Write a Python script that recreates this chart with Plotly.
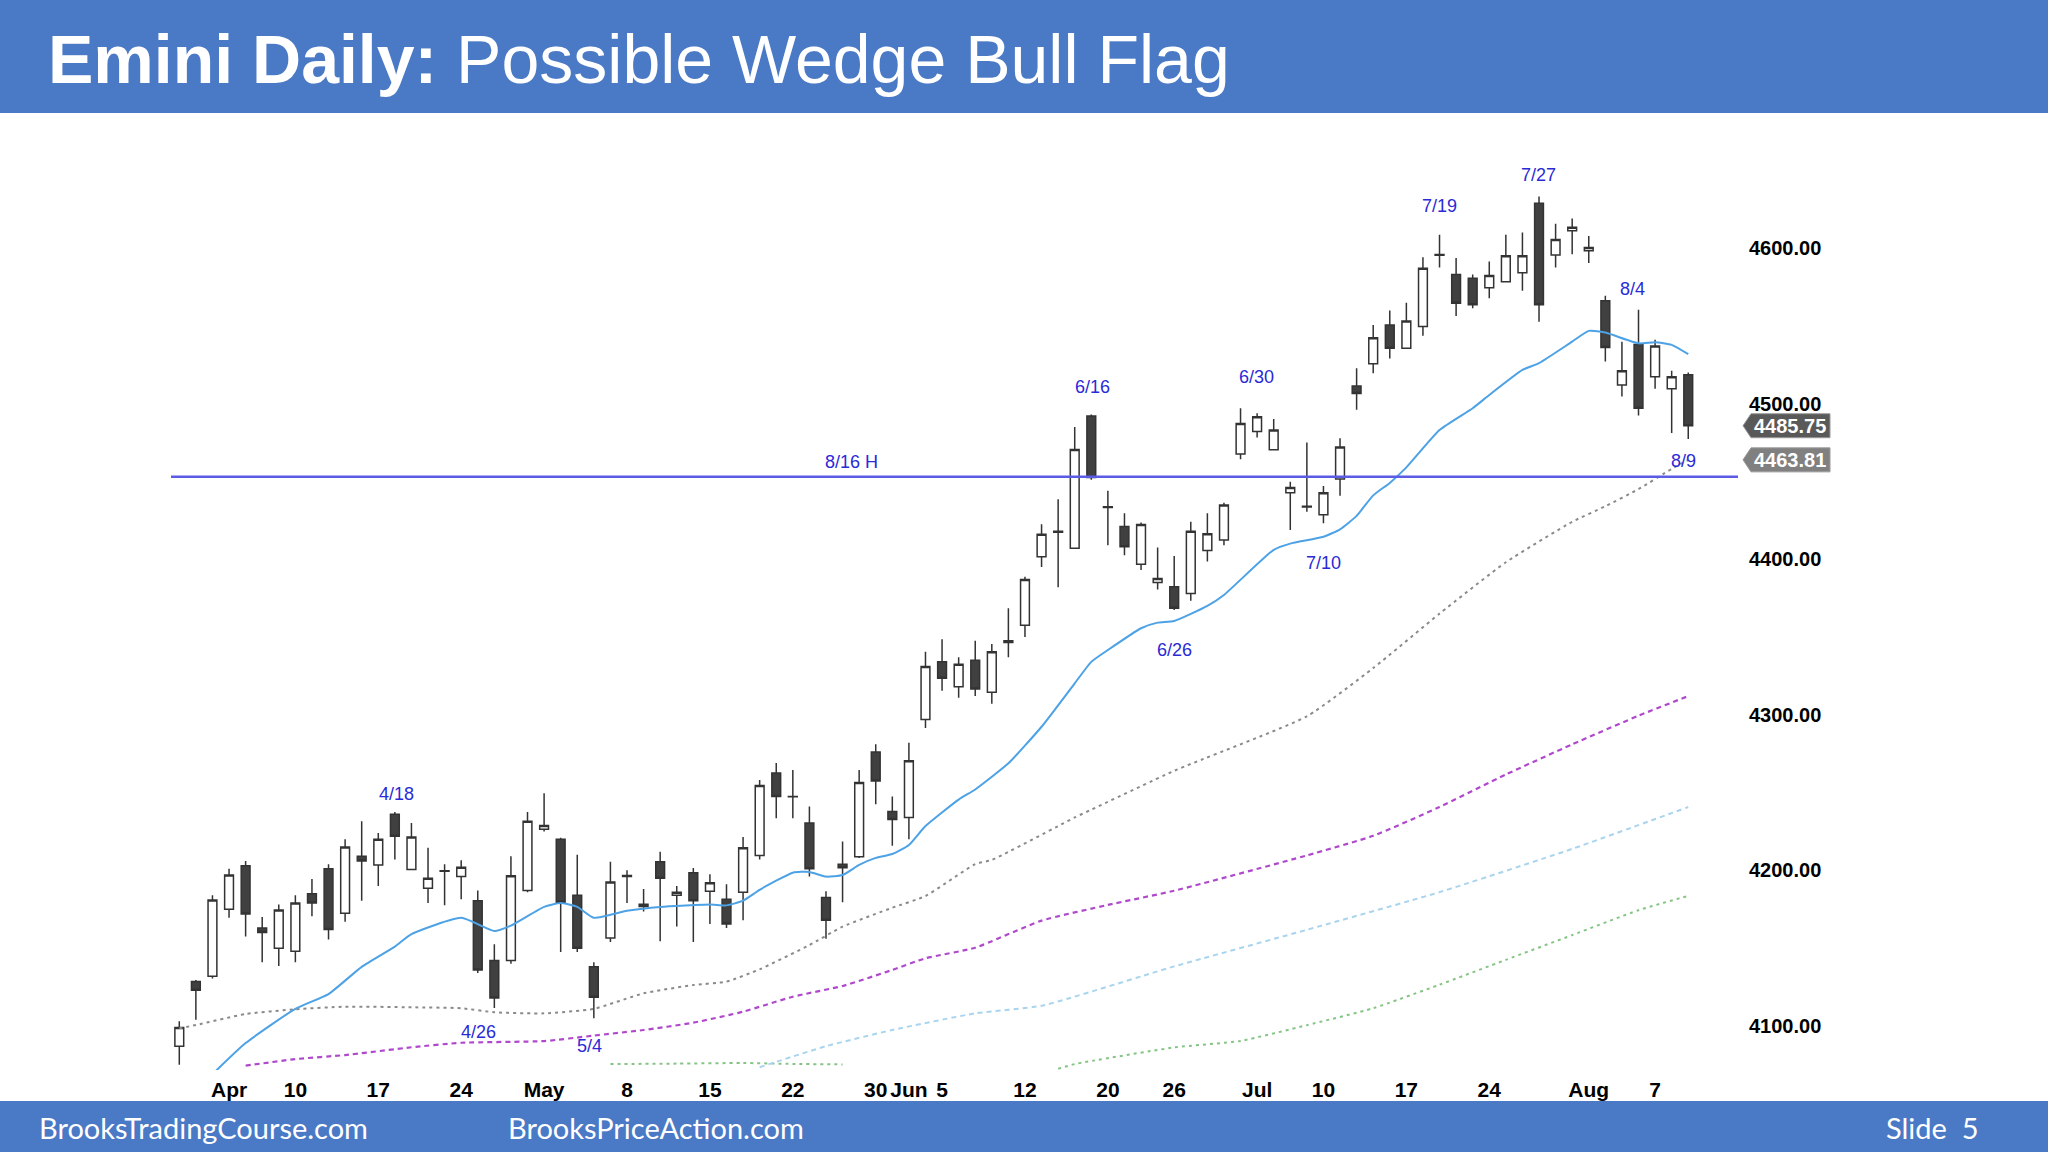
import plotly.graph_objects as go

# ---------------- data ----------------
dates = [
    "2023-03-29", "2023-03-30", "2023-03-31",
    "2023-04-03", "2023-04-04", "2023-04-05", "2023-04-06",
    "2023-04-10", "2023-04-11", "2023-04-12", "2023-04-13", "2023-04-14",
    "2023-04-17", "2023-04-18", "2023-04-19", "2023-04-20", "2023-04-21",
    "2023-04-24", "2023-04-25", "2023-04-26", "2023-04-27", "2023-04-28",
    "2023-05-01", "2023-05-02", "2023-05-03", "2023-05-04", "2023-05-05",
    "2023-05-08", "2023-05-09", "2023-05-10", "2023-05-11", "2023-05-12",
    "2023-05-15", "2023-05-16", "2023-05-17", "2023-05-18", "2023-05-19",
    "2023-05-22", "2023-05-23", "2023-05-24", "2023-05-25", "2023-05-26",
    "2023-05-30", "2023-05-31",
    "2023-06-01", "2023-06-02",
    "2023-06-05", "2023-06-06", "2023-06-07", "2023-06-08", "2023-06-09",
    "2023-06-12", "2023-06-13", "2023-06-14", "2023-06-15", "2023-06-16",
    "2023-06-20", "2023-06-21", "2023-06-22", "2023-06-23",
    "2023-06-26", "2023-06-27", "2023-06-28", "2023-06-29", "2023-06-30",
    "2023-07-03", "2023-07-05", "2023-07-06", "2023-07-07",
    "2023-07-10", "2023-07-11", "2023-07-12", "2023-07-13", "2023-07-14",
    "2023-07-17", "2023-07-18", "2023-07-19", "2023-07-20", "2023-07-21",
    "2023-07-24", "2023-07-25", "2023-07-26", "2023-07-27", "2023-07-28",
    "2023-07-31",
    "2023-08-01", "2023-08-02", "2023-08-03", "2023-08-04",
    "2023-08-07", "2023-08-08", "2023-08-09",
]

opens = [4087, 4128.5, 4132, 4175, 4203, 4163, 4150, 4148, 4185, 4201,
         4172.5, 4209, 4203.5, 4236, 4200.5, 4188.5, 4199.75, 4196, 4180.5, 4142,
         4142, 4187, 4226.5, 4220, 4184, 4138, 4156.5, 4196, 4178.25, 4205.5,
         4184, 4198.5, 4186.5, 4181.5, 4186, 4209.5, 4262.5, 4247.25, 4230.5, 4182.5,
         4204, 4208.75, 4276, 4237.75, 4234, 4297, 4334, 4318, 4335, 4314.5,
         4346.5, 4357.5, 4401.5, 4417.25, 4407, 4492, 4433.75, 4421, 4396.75, 4385,
         4382.25, 4378, 4405.5, 4412.25, 4467.5, 4482, 4470.25, 4442.75, 4434, 4428.5,
         4451.5, 4511.25, 4525.5, 4550.5, 4535.5, 4549.5, 4595.25, 4583, 4580.5, 4574.5,
         4578.25, 4584, 4628.75, 4595.5, 4611, 4598.25, 4566, 4512, 4538, 4517.25,
         4509.5, 4518.5]
highs = [4103, 4129.5, 4184, 4201, 4206, 4170, 4178, 4184, 4194.5, 4204,
         4220, 4231.5, 4224, 4237.5, 4230.5, 4214.5, 4204, 4206.5, 4187, 4152.5,
         4209, 4237.5, 4249.5, 4221, 4210, 4141, 4205.5, 4200, 4188, 4212,
         4190, 4201.5, 4197.5, 4191, 4221.5, 4258, 4269, 4264.5, 4241, 4186.5,
         4218.5, 4264.5, 4281, 4247.5, 4282, 4340.5, 4348.5, 4337, 4347.5, 4345.5,
         4368.5, 4388.75, 4422.5, 4438.5, 4485, 4493, 4444, 4429.5, 4423.5, 4407.5,
         4402, 4424, 4429.5, 4436.25, 4497, 4493.75, 4490, 4449.75, 4475, 4447,
         4477.75, 4522.75, 4550.5, 4559.75, 4564.75, 4594, 4608.5, 4593.5, 4583, 4591.25,
         4608.5, 4610, 4633, 4615.5, 4619, 4607.75, 4569.25, 4539.75, 4560.25, 4541,
         4521, 4520]
lows = [4075, 4104, 4130.5, 4169.5, 4157.5, 4141, 4138.5, 4141, 4170.5, 4155.5,
        4167, 4180.5, 4190, 4207, 4200, 4179, 4177.5, 4181.5, 4134, 4111.5,
        4140, 4186, 4225, 4147.5, 4147.5, 4105, 4154, 4179, 4173.5, 4154.5,
        4164, 4154, 4165.5, 4163, 4168, 4207, 4233.5, 4233.5, 4196, 4156,
        4179.5, 4208, 4242.5, 4215.75, 4220, 4291.5, 4315.5, 4311, 4312, 4307,
        4337, 4350, 4395, 4382, 4406.5, 4451, 4409, 4402.5, 4393, 4380.5,
        4367.25, 4373.25, 4398.5, 4409, 4464.25, 4478.25, 4469.75, 4418.75, 4430.5, 4423,
        4440.75, 4496, 4519.5, 4529, 4535, 4543.5, 4587.5, 4556.25, 4561.25, 4567.75,
        4578.25, 4572.5, 4552.5, 4587.5, 4596, 4590.25, 4527, 4504.5, 4492.25, 4509.5,
        4481, 4477.25]
closes = [4099, 4123, 4181, 4197, 4172, 4160, 4174.5, 4179, 4179, 4162,
          4215, 4206, 4220, 4222, 4221.5, 4195, 4199.5, 4202, 4136, 4118,
          4196.5, 4231.5, 4228.75, 4179.5, 4150, 4118.5, 4192.5, 4196.75, 4176.75, 4195,
          4186, 4180.5, 4192, 4165.5, 4214.5, 4254.5, 4247.5, 4247.5, 4201, 4168,
          4201.75, 4256.5, 4257.5, 4232.75, 4270.5, 4331, 4323.5, 4332.5, 4316.5, 4340.5,
          4347.5, 4387, 4416, 4418, 4470.5, 4452.5, 4433.25, 4408, 4422.25, 4387.5,
          4368.5, 4418, 4416.25, 4434.75, 4487.25, 4491.5, 4483, 4446, 4433.5, 4442.75,
          4472, 4506.5, 4542.25, 4535.5, 4553, 4587, 4595.75, 4564.5, 4563.5, 4582.25,
          4595, 4595, 4563.5, 4605.5, 4613.25, 4600.25, 4536, 4521, 4497, 4537,
          4517.25, 4485.75]

# moving averages (bar index -> value)
ema_idx = [2, 4, 7, 9, 11, 13, 14, 17, 19, 20, 22, 23, 24, 25, 27, 29, 32, 33, 34, 35,
           37, 38, 39, 40, 41, 42, 43, 44, 45, 47, 48, 50, 52, 54, 55, 56, 58, 59, 60, 62,
           63, 66, 67, 69, 70, 71, 72, 73, 74, 76, 78, 79, 81, 82, 84, 85, 86, 88, 89, 90, 91]
ema_val = [4069, 4089, 4111, 4120.5, 4138, 4151, 4159, 4169.5, 4161, 4164.5, 4176.5, 4179,
           4176.5, 4169.5, 4174, 4176.5, 4178, 4177.5, 4180.5, 4187.5, 4198.5, 4199, 4196,
           4197, 4203.5, 4208, 4210.5, 4216.3, 4228.5, 4245.5, 4252, 4268.8, 4292.3, 4320.2,
           4334, 4341.6, 4355.6, 4359.2, 4360.3, 4370, 4377, 4406, 4410, 4414.4, 4419.2,
           4427.8, 4441, 4449, 4459, 4483, 4497, 4505.5, 4521.6, 4526, 4539.8, 4546.7,
           4545.6, 4538.7, 4539.4, 4537.7, 4531.7]

gray_idx = [0, 1, 4, 7, 10, 14, 17, 19, 22, 25, 28, 31, 33, 35, 38, 40, 43, 45, 48, 49,
            54, 55, 60, 68, 72, 76, 80, 84, 86, 88, 90, 91]
gray_val = [4098.5, 4100.6, 4107.7, 4110.7, 4112.4, 4112, 4111.4, 4108.8, 4108.1, 4111,
            4121, 4126.3, 4128.5, 4136.4, 4152, 4163.8, 4176, 4183.5, 4204, 4206.7,
            4234, 4239, 4264, 4299, 4330, 4365, 4398, 4424, 4434, 4445, 4458, 4463.81]

purple_idx = [4, 7, 10, 14, 17, 22, 25, 28, 31, 34, 37, 40, 43, 45, 48, 52, 56, 60, 68,
              72, 76, 80, 84, 88, 91]
purple_val = [4074.5, 4078.7, 4081.3, 4086.3, 4089.2, 4090.3, 4093.8, 4097.4, 4102.1,
              4109.2, 4118.8, 4125.7, 4136, 4143.5, 4150.3, 4167.7, 4177.8, 4186.9, 4209.6,
              4222.2, 4240.7, 4261.6, 4281, 4299.4, 4312]

ltblue_idx = [35, 39, 43, 48, 52, 60, 68, 76, 84, 91]
ltblue_val = [4073.5, 4087, 4097.4, 4108.1, 4113, 4138.3, 4161.8, 4186, 4213.8, 4240.7]

green1_idx = [26, 30, 34, 37, 40]
green1_val = [4075.5, 4075.8, 4076.2, 4075.6, 4075.3]
green2_idx = [53, 54, 60, 64, 68, 72, 76, 80, 84, 88, 91]
green2_val = [4072.5, 4075.5, 4086.2, 4090.4, 4100.5, 4111.4, 4126.5, 4142.5, 4158.4,
              4174.4, 4183.6]

level_816h = 4453

tick_dates = ["2023-04-03", "2023-04-10", "2023-04-17", "2023-04-24", "2023-05-01",
              "2023-05-08", "2023-05-15", "2023-05-22", "2023-05-30", "2023-06-01",
              "2023-06-05", "2023-06-12", "2023-06-20", "2023-06-26", "2023-07-03",
              "2023-07-10", "2023-07-17", "2023-07-24", "2023-08-01", "2023-08-07"]
tick_text = ["Apr", "10", "17", "24", "May", "8", "15", "22", "30", "Jun", "5", "12",
             "20", "26", "Jul", "10", "17", "24", "Aug", "7"]

price_ticks = [4100, 4200, 4300, 4400, 4500, 4600]

swing_labels = ["4/18", "4/26", "5/4", "6/16", "6/30", "6/26", "7/10", "7/19", "7/27",
                "8/4", "8/9", "8/16 H"]

# ---------------- layout geometry (pixels) ----------------
W, H = 2048, 1152
PL, PR, PT, PB = 171, 1738, 130, 1070
Y_LO, Y_HI = 4071.7, 4675.8


def pxx(X):
    return (X - PL) / (PR - PL)


def pxy(Y):
    return (PB - Y) / (PB - PT)


fig = go.Figure()

fig.add_trace(go.Candlestick(
    x=dates, open=opens, high=highs, low=lows, close=closes,
    increasing=dict(line=dict(color="#333333", width=1.5), fillcolor="#ffffff"),
    decreasing=dict(line=dict(color="#333333", width=1.5), fillcolor="#404040"),
    whiskerwidth=0, showlegend=False, hoverinfo="skip",
))


def ma_trace(idx, val, color, dash, width=2.0):
    return go.Scatter(x=[dates[i] for i in idx], y=val, mode="lines",
                      line=dict(color=color, width=width, dash=dash, shape="spline",
                                smoothing=0.5),
                      showlegend=False, hoverinfo="skip")


fig.add_trace(ma_trace(green1_idx, green1_val, "#86C486", "3px,4px"))
fig.add_trace(ma_trace(green2_idx, green2_val, "#86C486", "3px,4px"))
fig.add_trace(ma_trace(ltblue_idx, ltblue_val, "#A9D4EE", "5px,4px"))
fig.add_trace(ma_trace(purple_idx, purple_val, "#B048CC", "5px,4px", 2.2))
fig.add_trace(ma_trace(gray_idx, gray_val, "#8A8A8A", "3px,4px"))
fig.add_trace(ma_trace(ema_idx, ema_val, "#4DA2E6", "solid"))

shapes = []
annotations = []

# title and footer bands
BLUE = "#4A79C6"
shapes.append(dict(type="rect", xref="paper", yref="paper", x0=pxx(0), x1=pxx(W),
                   y0=pxy(113), y1=pxy(0), fillcolor=BLUE, line=dict(width=0), layer="below"))
shapes.append(dict(type="rect", xref="paper", yref="paper", x0=pxx(0), x1=pxx(W),
                   y0=pxy(H), y1=pxy(1101), fillcolor=BLUE, line=dict(width=0), layer="below"))

# horizontal level line
shapes.append(dict(type="line", xref="paper", yref="y", x0=0, x1=1,
                   y0=level_816h, y1=level_816h, line=dict(color="#5B5BE8", width=2.5)))

# price tags on the right
last_close = closes[-1]
last_gray = gray_val[-1]
for val, col in [(last_close, "#595959"), (last_gray, "#808080")]:
    hh = 12 * (Y_HI - Y_LO) / (PB - PT)
    xt, xb, xr = pxx(1743), pxx(1751), pxx(1830)
    path = (f"M {xt},{val} L {xb},{val + hh} L {xr},{val + hh} "
            f"L {xr},{val - hh} L {xb},{val - hh} Z")
    shapes.append(dict(type="path", xref="paper", yref="y", path=path,
                       fillcolor=col, line=dict(color="#9a9a9a", width=1)))
    annotations.append(dict(xref="paper", yref="y", x=pxx(1790), y=val,
                            xanchor="center", yanchor="middle",
                            text=f"{val:.2f}", showarrow=False,
                            font=dict(family="Liberation Sans, Arial", size=20,
                                      color="white", weight="bold")))

# swing labels (pixel positions from reference)
label_pos = [(396, 794), (478, 1032), (589, 1046), (1092, 387), (1256, 377), (1174, 650),
             (1323, 563), (1439, 206), (1538, 175), (1632, 289), (1683, 461), (851, 462)]
for txt, (X, Y) in zip(swing_labels, label_pos):
    xi = (X - 179.3) / 16.58
    yv = Y_HI - (Y - PT) * (Y_HI - Y_LO) / (PB - PT)
    annotations.append(dict(x=xi, y=yv, xref="x", yref="y", text=txt, showarrow=False,
                            xanchor="center", yanchor="middle",
                            font=dict(family="Liberation Sans, Arial", size=18,
                                      color="#2A2AD6")))

# title
annotations.append(dict(xref="paper", yref="paper", x=pxx(46), y=pxy(59), xanchor="left",
                        yanchor="middle", showarrow=False,
                        text="<b>Emini Daily:</b> Possible Wedge Bull Flag",
                        font=dict(family="Liberation Sans, Arial", size=68, color="white")))
# footer
for txt, X in [("BrooksTradingCourse.com", 37), ("BrooksPriceAction.com", 506),
               ("Slide\u00a0 5", 1884)]:
    annotations.append(dict(xref="paper", yref="paper", x=pxx(X), y=pxy(1127),
                            xanchor="left", yanchor="middle", showarrow=False, text=txt,
                            font=dict(family="Lato, Open Sans", size=29, color="white")))

fig.update_layout(
    width=W, height=H,
    margin=dict(l=PL, r=W - PR, t=PT, b=H - PB),
    paper_bgcolor="white", plot_bgcolor="white",
    boxgap=0.24,
    shapes=shapes, annotations=annotations,
    xaxis=dict(type="category", range=[-0.5, 94.0], rangeslider=dict(visible=False),
               showgrid=False, zeroline=False, showline=False, ticks="",
               tickmode="array", tickvals=tick_dates, ticktext=tick_text, tickangle=0,
               tickfont=dict(family="Liberation Sans Narrow, Arial Narrow, Liberation Sans",
                             size=21, color="black", weight="bold"),
               ticklabelstandoff=5),
    yaxis=dict(side="right", range=[Y_LO, Y_HI], showgrid=False, zeroline=False,
               showline=False, ticks="", tickmode="array", tickvals=price_ticks,
               ticktext=[f"{v:.2f}" for v in price_ticks],
               tickfont=dict(family="Liberation Sans, Arial", size=20, color="black",
                             weight="bold"),
               ticklabelstandoff=10),
    hovermode=False,
)

fig.write_html("out.html")
